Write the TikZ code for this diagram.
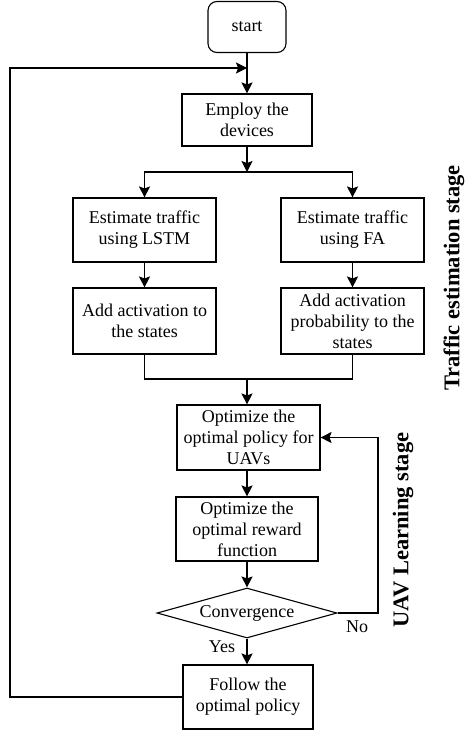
\documentclass[tikz,border=0pt]{standalone}
\usepackage{fontspec}
\setmainfont{Liberation Serif}
\usetikzlibrary{shapes.geometric}
\usetikzlibrary{arrows.meta}

\begin{document}
\begin{tikzpicture}[x=1pt, y=-1pt, every node/.style={font=\fontsize{18}{21}\selectfont}]

		\useasboundingbox (0,0) rectangle (474,731);
		\tikzset{block/.style={draw, line width=1.1pt, align=center, inner sep=2pt, minimum width=143pt, minimum height=65pt},
			flow/.style={-{Stealth[length=11pt, width=11pt, inset=2pt]}, line width=1.1pt},
			stagelabel/.style={rotate=90, font=\fontsize{22.5}{26}\selectfont\bfseries}}

		% Blocks of the flow chart
		\node[block, rounded corners=9pt, minimum width=78pt, minimum height=51pt] (start) at (247,27) {start};
		\node[block, minimum width=130pt, minimum height=52pt] (employ) at (247,120) {Employ the\\devices};
		\node[block, minimum height=64pt] (lstm) at (144.5,230) {Estimate traffic\\using LSTM};
		\node[block, minimum height=64pt] (fa) at (352.5,230) {Estimate traffic\\using FA};
		\node[block, minimum height=66pt] (actl) at (144.5,321) {Add activation to\\the states};
		\node[block, minimum height=66pt] (actr) at (352.5,321) {Add activation\\probability to the\\states};
		\node[block] (policy) at (248.5,437.5) {Optimize the\\optimal policy for\\UAVs};
		\node[block, minimum width=142pt, minimum height=64pt] (reward) at (247,529) {Optimize the\\optimal reward\\function};
		\node[draw, diamond, aspect=3.6, line width=1.1pt, inner sep=0pt, minimum width=180pt, minimum height=50pt] (conv) at (247,613) {Convergence};
		\node[block, minimum width=130pt, minimum height=64pt] (follow) at (248,697) {Follow the\\optimal policy};

		\coordinate (join) at (247,68);
		\coordinate (loop) at (10,68);
		\coordinate (split) at (247,172);
		\coordinate (merge) at (247,379);
		\coordinate (back) at (378,613);

		% Connectors
		\draw[flow] (start) -- (employ);
		\draw[flow] (follow.west) -| (loop) -- (join);
		\draw[flow] (employ) -- (split);
		\draw[flow] (split) -| (lstm.north);
		\draw[flow] (split) -| (fa.north);
		\draw[flow] (lstm) -- (actl);
		\draw[flow] (fa) -- (actr);
		\draw[line width=1.1pt] (actl.south) |- (merge) -| (actr.south);
		\draw[flow] (merge) -- (policy.north -| merge);
		\draw[flow] (policy.south -| reward) -- (reward);
		\draw[flow] (reward) -- (conv);
		\draw[flow] (conv) -- (follow.north -| conv);
		\draw[flow] (conv.east) -- (back) |- (policy.east);

		\node (yes) at (222,647) {Yes};
		\node (no) at (357,627) {No};

		% Stage labels
		\node[stagelabel] (traffic) at (454,278) {Traffic estimation stage};
		\node[stagelabel] (uav) at (403,530) {UAV Learning stage};
	\end{tikzpicture}
\end{document}
